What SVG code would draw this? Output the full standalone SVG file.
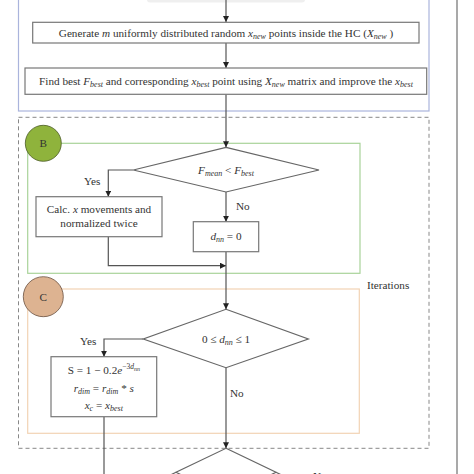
<svg xmlns="http://www.w3.org/2000/svg" width="474" height="474" viewBox="0 0 474 474">
<defs>
<marker id="ah" viewBox="0 0 10 10" refX="10" refY="5" markerWidth="6" markerHeight="6" orient="auto" markerUnits="userSpaceOnUse">
<path d="M0,0 L10,5 L0,10 z" fill="#222"/>
</marker>
<style>
text{font-family:"Liberation Serif","Times New Roman",serif;fill:#333;font-size:11.2px}
.t{text-anchor:middle}
.i{font-style:italic}
.s{font-size:8px;font-style:italic}
.box{fill:#fff;stroke:#777;stroke-width:1.2}
.dia{fill:#fff;stroke:#666;stroke-width:1.2}
.con{fill:none;stroke:#555;stroke-width:1.2}
</style>
</defs>
<rect x="0" y="0" width="474" height="474" fill="#fff"/>
<rect x="147" y="-10" width="158" height="12.5" rx="3" fill="#efefef"/>
<line x1="457" y1="0" x2="457" y2="474" stroke="#a0a0a0" stroke-width="1.8"/>
<g id="phaseA">
<rect x="18.5" y="-20" width="410.5" height="131" fill="none" stroke="#aab4dc" stroke-width="1.2"/>
</g>
<g id="iterations">
<rect x="18.5" y="117.3" width="410.5" height="331" fill="none" stroke="#888" stroke-width="1" stroke-dasharray="4,3"/>
<text x="367" y="289">Iterations</text>
</g>
<g id="phaseB">
<rect x="27.7" y="143.3" width="332.3" height="130" fill="none" stroke="#a9d39a" stroke-width="1.2"/>
<circle cx="43.3" cy="143.3" r="18" fill="#8fb33c" stroke="#4a5a25" stroke-width="0.8"/>
<text class="t" x="43.3" y="147" font-size="9.5">B</text>
</g>
<g id="phaseC">
<rect x="27.7" y="289" width="331.6" height="144.3" fill="none" stroke="#f2d3b4" stroke-width="1.2"/>
<circle cx="43.3" cy="296.7" r="20" fill="#ddb391" stroke="#6a5040" stroke-width="0.8"/>
<text class="t" x="43.3" y="300.5" font-size="9.5">C</text>
</g>
<g id="connectors">
<line class="con" x1="226" y1="0" x2="226" y2="22" marker-end="url(#ah)"/>
<line class="con" x1="226" y1="43" x2="226" y2="68" marker-end="url(#ah)"/>
<line class="con" x1="226" y1="94.3" x2="226" y2="147.3" marker-end="url(#ah)"/>
<polyline class="con" points="133.3,170 108.3,170 108.3,196.7" marker-end="url(#ah)"/>
<line class="con" x1="226" y1="192" x2="226" y2="221.7" marker-end="url(#ah)"/>
<polyline class="con" points="108.3,236.7 108.3,265.7 226,265.7" marker-end="url(#ah)"/>
<line class="con" x1="226" y1="251.7" x2="226" y2="309.3" marker-end="url(#ah)"/>
<polyline class="con" points="143.3,339 104,339 104,356.7" marker-end="url(#ah)"/>
<line class="con" x1="226" y1="367.7" x2="226" y2="448.3" marker-end="url(#ah)"/>
<line class="con" x1="104" y1="416.7" x2="104" y2="474"/>
<text x="84" y="185">Yes</text>
<text x="236" y="210">No</text>
<text x="80" y="345">Yes</text>
<text x="230" y="397">No</text>
<text x="313" y="480">No</text>
</g>
<g id="generate">
<rect class="box" x="32.7" y="22.3" width="386.3" height="20.7"/>
<text class="t" x="226" y="36.5">Generate <tspan class="i">m</tspan> uniformly distributed random <tspan class="i">x</tspan><tspan class="s" dy="2">new</tspan><tspan dy="-2"> points inside the HC (</tspan><tspan class="i">X</tspan><tspan class="s" dy="2">new</tspan><tspan dy="-2"> )</tspan></text>
</g>
<g id="findbest">
<rect class="box" x="25" y="68" width="401.7" height="26.3"/>
<text class="t" x="226" y="84.5">Find best <tspan class="i">F</tspan><tspan class="s" dy="2">best</tspan><tspan dy="-2"> and corresponding </tspan><tspan class="i">x</tspan><tspan class="s" dy="2">best</tspan><tspan dy="-2"> point using </tspan><tspan class="i">X</tspan><tspan class="s" dy="2">new</tspan><tspan dy="-2"> matrix and improve the </tspan><tspan class="i">x</tspan><tspan class="s" dy="2">best</tspan></text>
</g>
<g id="dec1">
<polygon class="dia" points="226,147.3 319,170 226,192 133.3,170"/>
<text class="t" x="226" y="174"><tspan class="i">F</tspan><tspan class="s" dy="2">mean</tspan><tspan dy="-2"> &lt; </tspan><tspan class="i">F</tspan><tspan class="s" dy="2">best</tspan></text>
</g>
<g id="calc">
<rect class="box" x="36" y="196.7" width="126" height="40"/>
<text class="t" x="99" y="213" font-size="11.8">Calc. <tspan class="i">x</tspan> movements and</text>
<text class="t" x="99" y="226.5" font-size="11.8">normalized twice</text>
</g>
<g id="dnn0">
<rect class="box" x="193.3" y="221.7" width="65.4" height="30"/>
<text class="t" x="226" y="240"><tspan class="i">d</tspan><tspan class="s" dy="2">nn</tspan><tspan dy="-2"> = 0</tspan></text>
</g>
<g id="dec2">
<polygon class="dia" points="226,309.3 308.3,339 226,367.7 143.3,339"/>
<text class="t" x="226" y="343">0 ≤ <tspan class="i">d</tspan><tspan class="s" dy="2">nn</tspan><tspan dy="-2"> ≤ 1</tspan></text>
</g>
<g id="update">
<rect class="box" x="51" y="356.7" width="105.7" height="60"/>
<text class="t" x="103.8" y="373.5" font-size="11.8">S = 1 − 0.2<tspan class="i">e</tspan><tspan font-size="7.5" dy="-4.5">−3<tspan font-style="italic">d</tspan><tspan font-size="6" font-style="italic" dy="1.5">nn</tspan></tspan></text>
<text class="t" x="103.8" y="391.5"><tspan class="i">r</tspan><tspan class="s" dy="2">dim</tspan><tspan dy="-2"> = </tspan><tspan class="i">r</tspan><tspan class="s" dy="2">dim</tspan><tspan dy="-2"> * </tspan><tspan class="i">s</tspan></text>
<text class="t" x="103.8" y="408.5"><tspan class="i">x</tspan><tspan class="s" dy="2">c</tspan><tspan dy="-2"> = </tspan><tspan class="i">x</tspan><tspan class="s" dy="2">best</tspan></text>
</g>
<g id="dec3">
<polygon class="dia" points="226,448.3 276,472.3 226,496.3 176,472.3"/>
<polyline class="dia" points="176,472.3 150,484.8" fill="none"/>
<polyline class="dia" points="276,472.3 302,484.8" fill="none"/>
</g>
</svg>
